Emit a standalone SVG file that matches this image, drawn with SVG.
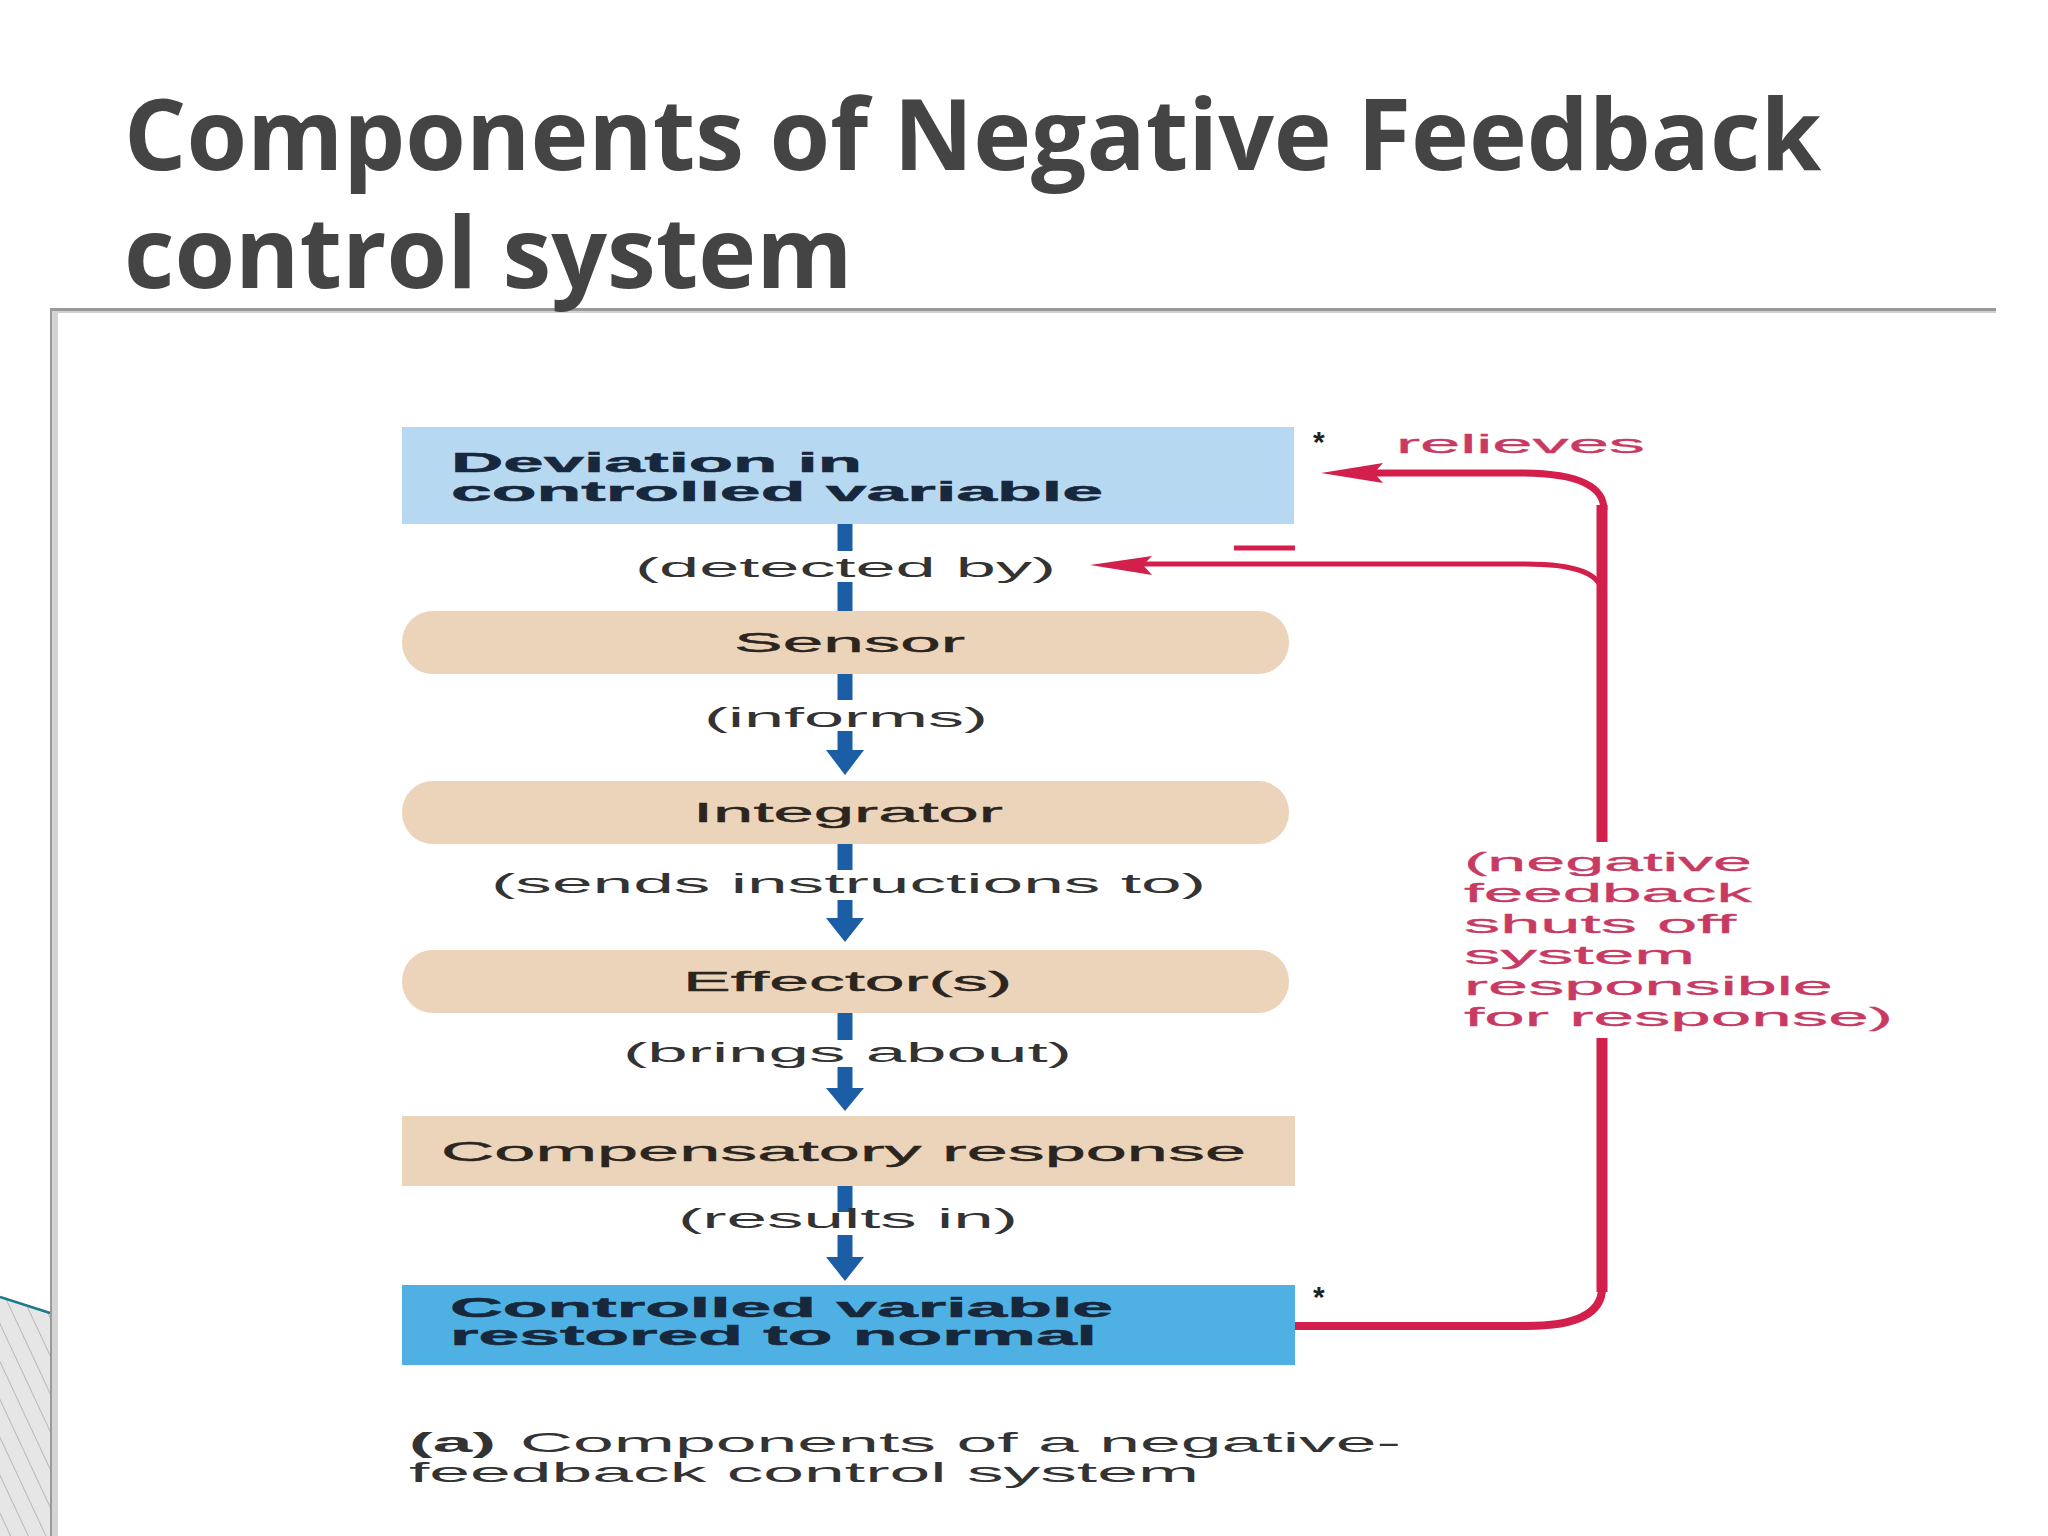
<svg xmlns="http://www.w3.org/2000/svg" width="2048" height="1536" viewBox="0 0 2048 1536">
<defs>
<pattern id="hatch" width="16" height="16" patternUnits="userSpaceOnUse" patternTransform="rotate(-25)">
<rect width="16" height="16" fill="#e6e6e6"/>
<line x1="0" y1="0" x2="0" y2="16" stroke="#9a9a9a" stroke-width="1.2"/>
</pattern>
<style>
.title{font-family:"Open Sans","Noto Sans",sans-serif;font-weight:bold;font-size:98px;fill:#444444}
.lbl{font-family:"Liberation Sans",Arial,sans-serif;font-size:27px;fill:#333333}
.bl{font-family:"Liberation Sans",Arial,sans-serif;font-size:28px;font-weight:bold;fill:#17283d;stroke:#17283d;stroke-width:0.5}
.tn{font-family:"Liberation Sans",Arial,sans-serif;font-size:28px;fill:#2b2520;stroke:#2b2520;stroke-width:0.4}
.rt{font-family:"Liberation Sans",Arial,sans-serif;font-size:26px;fill:#c93a63;stroke:#c93a63;stroke-width:0.3}
.cap{font-family:"Liberation Sans",Arial,sans-serif;font-size:28px;fill:#333333}
.ast{font-family:"Liberation Sans",Arial,sans-serif;font-size:30px;font-weight:bold;fill:#222222}
.tan{fill:#ebd4ba}
.blue{stroke:#1b5ea6;stroke-width:15;fill:none}
.head{fill:#1b5ea6}
.red{stroke:#d21f4c;fill:none}
.redf{fill:#d21f4c}
</style>
</defs>
<rect width="2048" height="1536" fill="#ffffff"/>

<g id="frame">
<rect x="50" y="308" width="1946" height="3" fill="#9a9a9a"/>
<rect x="52" y="311" width="1944" height="2" fill="#d0d0d0"/>
<rect x="50" y="308" width="2" height="1228" fill="#9a9a9a"/>
<rect x="52" y="311" width="6" height="1225" fill="#d4d4d4"/>
<polygon points="0,1297 50,1313 50,1536 0,1536" fill="url(#hatch)"/>
<line x1="0" y1="1297" x2="50" y2="1313" stroke="#1a7a88" stroke-width="2.5"/>
</g>

<g id="title">
<text class="title" x="124" y="170">Components of Negative Feedback</text>
<text class="title" x="124" y="288">control system</text>
</g>

<g id="connectors">
<line class="blue" x1="845" y1="524" x2="845" y2="551"/>
<line class="blue" x1="845" y1="582" x2="845" y2="612"/>
<line class="blue" x1="845" y1="674" x2="845" y2="700"/>
<line class="blue" x1="845" y1="731" x2="845" y2="752"/>
<polygon class="head" points="826,750 864,750 845,775"/>
<line class="blue" x1="845" y1="844" x2="845" y2="870"/>
<line class="blue" x1="845" y1="900" x2="845" y2="920"/>
<polygon class="head" points="826,918 864,918 845,942"/>
<line class="blue" x1="845" y1="1013" x2="845" y2="1040"/>
<line class="blue" x1="845" y1="1067" x2="845" y2="1090"/>
<polygon class="head" points="826,1088 864,1088 845,1111"/>
<line class="blue" x1="845" y1="1186" x2="845" y2="1212"/>
<line class="blue" x1="845" y1="1235" x2="845" y2="1259"/>
<polygon class="head" points="826,1257 864,1257 845,1281"/>

<path class="red" stroke-width="11" d="M1602,842 V505"/>
<path class="red" stroke-width="11" d="M1602,1038 V1292"/>
<path class="red" stroke-width="7" d="M1604,510 C1604,485 1575,473 1520,473 H1372"/>
<polygon class="redf" points="1321,473 1383,463 1374,473 1383,483"/>
<path class="red" stroke-width="5" d="M1602,592 C1600,575 1580,564 1525,564 H1140"/>
<polygon class="redf" points="1090,565 1152,556 1143,565 1152,575"/>
<line class="red" stroke-width="5" x1="1234" y1="548" x2="1295" y2="548"/>
<path class="red" stroke-width="8" d="M1295,1326 H1526 C1580,1326 1602,1312 1602,1288"/>
</g>

<g id="deviation">
<rect x="402" y="427" width="892" height="97" fill="#b7d8f1"/>
<text class="bl" x="451" y="472" textLength="411" lengthAdjust="spacingAndGlyphs">Deviation in</text>
<text class="bl" x="451" y="501" textLength="652" lengthAdjust="spacingAndGlyphs">controlled variable</text>
</g>

<g id="label-detected">
<text class="lbl" x="635" y="577" textLength="421" lengthAdjust="spacingAndGlyphs">(detected by)</text>
</g>

<g id="sensor">
<rect class="tan" x="402" y="611" width="887" height="63" rx="31" ry="31"/>
<text class="tn" x="734" y="652" textLength="231" lengthAdjust="spacingAndGlyphs">Sensor</text>
</g>

<g id="label-informs">
<text class="lbl" x="704" y="727" textLength="284" lengthAdjust="spacingAndGlyphs">(informs)</text>
</g>

<g id="integrator">
<rect class="tan" x="402" y="781" width="887" height="63" rx="31" ry="31"/>
<text class="tn" x="693" y="822" textLength="310" lengthAdjust="spacingAndGlyphs">Integrator</text>
</g>

<g id="label-sends">
<text class="lbl" x="491" y="893" textLength="715" lengthAdjust="spacingAndGlyphs">(sends instructions to)</text>
</g>

<g id="effector">
<rect class="tan" x="402" y="950" width="887" height="63" rx="31" ry="31"/>
<text class="tn" x="683" y="991" textLength="329" lengthAdjust="spacingAndGlyphs">Effector(s)</text>
</g>

<g id="label-brings">
<text class="lbl" x="623" y="1062" textLength="449" lengthAdjust="spacingAndGlyphs">(brings about)</text>
</g>

<g id="compensatory">
<rect class="tan" x="402" y="1116" width="893" height="70"/>
<text class="tn" x="441" y="1161" textLength="805" lengthAdjust="spacingAndGlyphs">Compensatory response</text>
</g>

<g id="label-results">
<text class="lbl" x="678" y="1228" textLength="340" lengthAdjust="spacingAndGlyphs">(results in)</text>
</g>

<g id="restored">
<rect x="402" y="1285" width="893" height="80" fill="#4fb0e3"/>
<text class="bl" x="450" y="1317" textLength="663" lengthAdjust="spacingAndGlyphs">Controlled variable</text>
<text class="bl" x="450" y="1345" textLength="647" lengthAdjust="spacingAndGlyphs">restored to normal</text>
</g>

<g id="feedback-labels">
<text class="ast" x="1313" y="452">*</text>
<text class="ast" x="1313" y="1307">*</text>
<text class="rt" x="1396" y="453" textLength="249" lengthAdjust="spacingAndGlyphs">relieves</text>
<text class="rt" x="1464" y="871" textLength="288" lengthAdjust="spacingAndGlyphs">(negative</text>
<text class="rt" x="1464" y="902" textLength="288" lengthAdjust="spacingAndGlyphs">feedback</text>
<text class="rt" x="1464" y="933" textLength="272" lengthAdjust="spacingAndGlyphs">shuts off</text>
<text class="rt" x="1464" y="964" textLength="231" lengthAdjust="spacingAndGlyphs">system</text>
<text class="rt" x="1464" y="995" textLength="369" lengthAdjust="spacingAndGlyphs">responsible</text>
<text class="rt" x="1464" y="1026" textLength="429" lengthAdjust="spacingAndGlyphs">for response)</text>
</g>

<g id="caption">
<text class="cap" x="409" y="1452" textLength="87" lengthAdjust="spacingAndGlyphs" style="font-weight:bold">(a)</text>
<text class="cap" x="520" y="1452" textLength="881" lengthAdjust="spacingAndGlyphs">Components of a negative-</text>
<text class="cap" x="409" y="1482" textLength="790" lengthAdjust="spacingAndGlyphs">feedback control system</text>
</g>
</svg>
